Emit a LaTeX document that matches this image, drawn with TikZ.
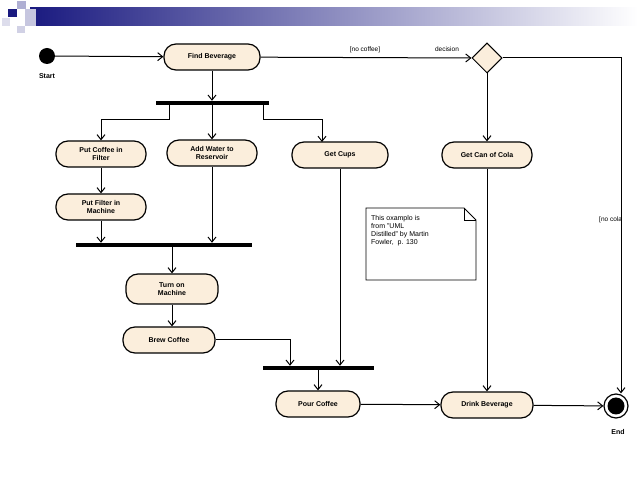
\documentclass[tikz,border=0pt]{standalone}
\usepackage{fontspec}
\setmainfont{Liberation Sans}
\usetikzlibrary{shapes.geometric,arrows.meta}
\definecolor{cream}{HTML}{FBEEDC}
\definecolor{navy}{HTML}{1A1A80}
\begin{document}
\begin{tikzpicture}[x=1pt,y=-1pt,
 act/.style={draw,line width=1.2pt,fill=cream,rounded corners=12pt,minimum height=26pt,inner sep=2pt,font=\fontsize{7}{8}\selectfont\bfseries,align=center},
 bar/.style={fill=black,minimum height=4pt,inner sep=0pt},
 arr/.style={-{Straight Barb[length=5pt,width=8pt]},line width=1pt},
 ln/.style={line width=1pt},
 lbl/.style={font=\fontsize{6.5}{7.5}\selectfont,inner sep=1pt}]
\useasboundingbox (0,0) rectangle (638,478);
% header
\shade[left color=navy,right color=white] (30,8) rectangle (638,26);
\fill[navy] (8,9) rectangle (17,17);
\fill[navy!35] (17,1) rectangle (26,9);
\fill[navy!25] (25,9) rectangle (36,26);
\fill[navy!20] (17,26) rectangle (25,33);
\fill[navy!15] (2,18) rectangle (10,26);
% nodes
\node[circle,fill=black,minimum size=16pt,inner sep=0pt] (start) at (47,56) {};
\node[lbl,font=\fontsize{7}{8}\selectfont\bfseries] (startl) at (47,76) {Start};
\node[act,minimum width=96pt] (find) at (212,57) {Find Beverage};
\node[diamond,draw,line width=1pt,fill=cream,minimum size=30pt,inner sep=0pt] (dec) at (487,58) {};
\node[lbl,anchor=south] (decl) at (447,53) {decision};
\node[lbl] (nocof) at (365,50) {[no coffee]};
\node[bar,minimum width=113pt] (b1) at (212,103) {};
\node[act,minimum width=90pt] (coffee) at (101,154) {Put Coffee in\\Filter};
\node[act,minimum width=90pt] (water) at (212,153) {Add Water to\\Reservoir};
\node[act,minimum width=96pt] (cups) at (340,155) {Get Cups};
\node[act,minimum width=90pt] (cola) at (487,155) {Get Can of Cola};
\node[act,minimum width=90pt] (filter) at (101,207) {Put Filter in\\Machine};
\node[bar,minimum width=176pt] (b2) at (164,245) {};
\node[act,minimum width=92pt,minimum height=30pt] (turn) at (172,289) {Turn on\\Machine};
\node[act,minimum width=92pt] (brew) at (169,340) {Brew Coffee};
\node[bar,minimum width=111pt] (b3) at (318,368) {};
\node[act,minimum width=84pt] (pour) at (318,404) {Pour Coffee};
\node[act,minimum width=92pt] (drink) at (487,405) {Drink Beverage};
\node[circle,draw,line width=1.2pt,fill=white,minimum size=24pt,inner sep=0pt] (end) at (616,406) {};
\fill[black] (end.center) circle (8.5pt);
\node[lbl,font=\fontsize{7}{8}\selectfont\bfseries] (endl) at (618,432) {End};
\node[lbl,anchor=north west] (nocola) at (598,216) {[no cola};
% note
\draw[line width=0.9pt,fill=white] (366,208) -- (464,208) -- (476,220) -- (476,280) -- (366,280) -- cycle;
\draw[line width=0.6pt] (464,208) -- (464,220) -- (476,220);
\node[lbl,anchor=north west,align=left,font=\fontsize{7}{8}\selectfont] (note) at (370,214) {This oxamplo is\\from "UML\\Distilled" by Martin\\Fowler,\ \ p. 130};
% edges
\draw[arr] (start) -- (find);
\draw[arr] (find) -- (dec.west);
\draw[arr] (find) -- (b1);
\draw[ln,-{Straight Barb[length=5pt,width=8pt]}] (dec.east) -- (621,58) -- (end.north -| 621,0);
\draw[arr] (dec) -- (cola);
\draw[arr] (169,105) -- (169,120) -- (101,120) -- (coffee.north);
\draw[arr] (b1.south -| water) -- (water);
\draw[arr] (263,105) -- (263,120) -- (322,120) -- (322,142);
\draw[arr] (coffee) -- (filter);
\draw[arr] (filter) -- (b2.north -| filter);
\draw[arr] (water) -- (b2.north -| water);
\draw[arr] (b2.south -| turn) -- (turn);
\draw[arr] (turn.south) -- (turn.south |- brew.north);
\draw[arr] (brew.east) -- (290,340) -- (b3.north -| 290,0);
\draw[arr] (cups.south -| 340,0) -- (b3.north -| 340,0);
\draw[arr] (b3) -- (pour);
\draw[arr] (pour) -- (drink);
\draw[arr] (cola) -- (drink);
\draw[arr] (drink) -- (end);
\end{tikzpicture}
\end{document}
